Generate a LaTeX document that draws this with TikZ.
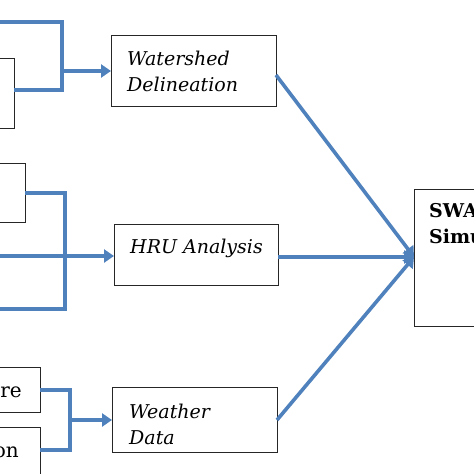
\documentclass[tikz,border=0pt]{standalone}
\usepackage{fontspec}
\setmainfont{DejaVu Serif}
\usetikzlibrary{arrows.meta}
\definecolor{flowblue}{HTML}{4F81BD}
\begin{document}
\begin{tikzpicture}[x=1pt,y=-1pt,
 box/.style={draw=black!85,line width=0.9pt,rectangle,inner sep=0pt,outer sep=0pt,anchor=north west},
 flow/.style={draw=flowblue,line width=3.6pt},
 arr/.style={flow,-{Triangle[length=10pt,width=13pt]}},
 lbl/.style={font=\fontsize{19}{26}\selectfont\itshape,anchor=base west,inner sep=0pt,align=left},
 plain/.style={font=\fontsize{20}{26}\selectfont,anchor=base east,inner sep=0pt},
 bold/.style={font=\fontsize{19}{26}\selectfont\bfseries,anchor=base west,inner sep=0pt,align=left},
]
\useasboundingbox (0,0) rectangle (474,474);
\clip (0,0) rectangle (474,474);
\fill[white] (0,0) rectangle (474,474);
% partial boxes on the left
\node[box,minimum width=44pt,minimum height=70pt] (l1) at (-30,58) {};
\node[box,minimum width=55pt,minimum height=59pt] (l2) at (-30,163) {};
\node[box,minimum width=70pt,minimum height=45pt] (l3) at (-30,367) {};
\node[box,minimum width=70pt,minimum height=70pt] (l4) at (-30,427) {};
\node[plain] (t3) at (22,397) {re};
\node[plain] (t4) at (19,457) {on};
% middle boxes
\node[box,minimum width=165pt,minimum height=71pt] (ws) at (111,35) {};
\node[box,minimum width=164pt,minimum height=61pt] (hru) at (114,224) {};
\node[box,minimum width=165pt,minimum height=65pt] (wd) at (112,387) {};
\node[lbl] (tw) at (127,91) {Watershed\\Delineation};
\node[lbl] (th) at (130,253) {HRU Analysis};
\node[lbl] (td) at (129,444) {Weather\\Data};
% SWAT box
\node[box,minimum width=100pt,minimum height=137pt] (sw) at (414,189) {};
\node[bold] (ts) at (429,243) {SWAT\\Simulation};
% junction points
\coordinate (a0) at (-5,22);
\coordinate (a1) at (62,22);
\coordinate (a2) at (62,90);
\coordinate (am) at (62,71);
\coordinate (b1) at (65,193);
\coordinate (b2) at (65,309);
\coordinate (b0) at (-5,309);
\coordinate (bm0) at (-5,256);
\coordinate (c1) at (70,390);
\coordinate (c2) at (70,450);
\coordinate (cm) at (70,420);
\coordinate (sin) at (414,257);
% left connectors
\draw[flow] (a0) -- (a1) -- (a2) -- (l1.east |- a2);
\draw[arr] (am) -- (ws.west |- am);
\draw[flow] (l2.east |- b1) -- (b1) -- (b2) -- (b0);
\draw[arr] (bm0) -- (hru.west |- bm0);
\draw[flow] (l3.east |- c1) -- (c1) -- (c2) -- (l4.east |- c2);
\draw[arr] (cm) -- (wd.west |- cm);
% to SWAT
\draw[arr] (ws.east |- 0,75) -- (sin);
\draw[arr] (hru.east |- sin) -- (sin);
\draw[arr] (wd.east |- cm) -- (sin);
\end{tikzpicture}
\end{document}
